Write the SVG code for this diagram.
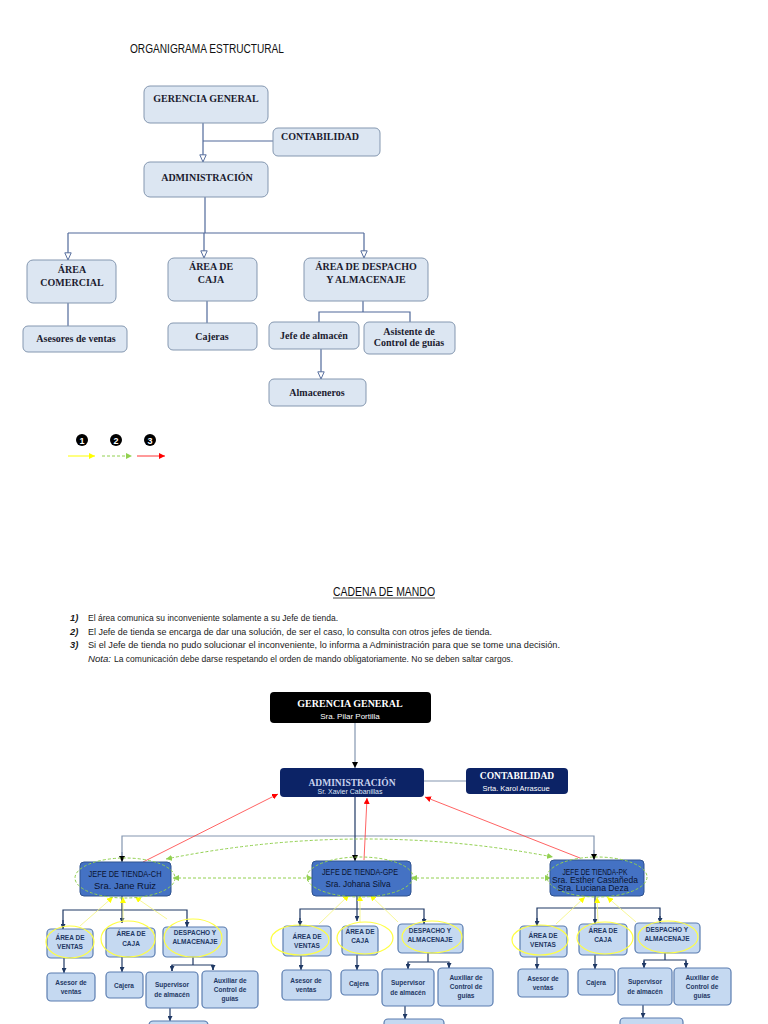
<svg xmlns="http://www.w3.org/2000/svg" width="768" height="1024" viewBox="0 0 768 1024">
<defs>
<style>
.bx{fill:#dce6f2;stroke:#8497b0;stroke-width:1}
.tt{font-family:"Liberation Serif","DejaVu Serif",serif;font-weight:bold;font-size:10px;fill:#1b1b2f;text-anchor:middle}
.ln{fill:none;stroke:#50699a;stroke-width:1.2}
.sn{font-family:"Liberation Sans",Arial,sans-serif}
.lt{font-family:"Liberation Sans",Arial,sans-serif;font-size:9.3px;fill:#1a1a1a}
.jb{fill:#4472c4;stroke:#2f528f;stroke-width:1}
.jt{font-family:"Liberation Sans",Arial,sans-serif;font-size:9px;fill:#0a1230;text-anchor:middle}
.sb{fill:#c5d9f1;stroke:#5b7db0;stroke-width:1.2}
.st{font-family:"Liberation Sans",Arial,sans-serif;font-weight:bold;font-size:6.5px;fill:#1f3864;text-anchor:middle}
.nl{fill:none;stroke:#1f3864;stroke-width:1.2}
.gl{fill:none;stroke:#8496b0;stroke-width:1.2}
.rd{fill:none;stroke:#ff3b3b;stroke-width:0.8}
.gr{fill:none;stroke:#92d050;stroke-width:1;stroke-dasharray:3,2}
.ye{fill:none;stroke:#ffff44;stroke-width:1.2}
.yl{fill:none;stroke:#f5f57a;stroke-width:0.8}
</style>
<marker id="open" viewBox="0 0 10 10" refX="10" refY="5" markerUnits="userSpaceOnUse" markerWidth="8" markerHeight="8" orient="auto"><path d="M1,1 L10,5 L1,9 Z" fill="#fff" stroke="#50699a" stroke-width="1.2"/></marker>
<marker id="blk" viewBox="0 0 10 10" refX="10" refY="5" markerUnits="userSpaceOnUse" markerWidth="6" markerHeight="7" orient="auto"><path d="M0,0 L10,5 L0,10 Z" fill="#000"/></marker>
<marker id="nav" viewBox="0 0 10 10" refX="10" refY="5" markerUnits="userSpaceOnUse" markerWidth="5" markerHeight="5" orient="auto"><path d="M0,0 L10,5 L0,10 Z" fill="#1f3864"/></marker>
<marker id="red" viewBox="0 0 10 10" refX="10" refY="5" markerUnits="userSpaceOnUse" markerWidth="6" markerHeight="6" orient="auto"><path d="M0,0 L10,5 L0,10 Z" fill="#ff0000"/></marker>
<marker id="grn" viewBox="0 0 10 10" refX="10" refY="5" markerUnits="userSpaceOnUse" markerWidth="6" markerHeight="6" orient="auto"><path d="M0,0 L10,5 L0,10 Z" fill="#92d050"/></marker>
<marker id="grs" viewBox="0 0 10 10" refX="0" refY="5" markerUnits="userSpaceOnUse" markerWidth="6" markerHeight="6" orient="auto"><path d="M10,0 L0,5 L10,10 Z" fill="#92d050"/></marker>
<marker id="yel" viewBox="0 0 10 10" refX="10" refY="5" markerUnits="userSpaceOnUse" markerWidth="6" markerHeight="6" orient="auto"><path d="M0,0 L10,5 L0,10 Z" fill="#ffff00"/></marker>
</defs>
<rect width="768" height="1024" fill="#fff"/>

<text x="130" y="53" class="sn" font-size="12" fill="#111" textLength="154" lengthAdjust="spacingAndGlyphs">ORGANIGRAMA ESTRUCTURAL</text>

<g id="top-connectors">
<path class="ln" d="M203,123 V162" marker-end="url(#open)"/>
<path class="ln" d="M203,141 H273"/>
<path class="ln" d="M205,197 V233"/>
<path class="ln" d="M68,233 H364"/>
<path class="ln" d="M68,233 V260" marker-end="url(#open)"/>
<path class="ln" d="M204,233 V258" marker-end="url(#open)"/>
<path class="ln" d="M364,233 V258" marker-end="url(#open)"/>
<path class="ln" d="M68,303 V326"/>
<path class="ln" d="M207,301 V323"/>
<path class="ln" d="M363,301 V312 M319,322 V312 H410 V322"/>
<path class="ln" d="M321,349 V379" marker-end="url(#open)"/>
</g>

<g id="t-gerencia"><rect class="bx" x="144" y="86" width="124" height="37" rx="6"/><text class="tt" x="206" y="102">GERENCIA GENERAL</text></g>
<g id="t-contabilidad"><rect class="bx" x="273" y="128" width="107" height="28" rx="5"/><text class="tt" x="320" y="140">CONTABILIDAD</text></g>
<g id="t-administracion"><rect class="bx" x="144" y="162" width="124" height="35" rx="6"/><text class="tt" x="207" y="181">ADMINISTRACIÓN</text></g>
<g id="t-comercial"><rect class="bx" x="27" y="260" width="89" height="43" rx="6"/><text class="tt" x="72" y="273">ÁREA</text><text class="tt" x="72" y="286">COMERCIAL</text></g>
<g id="t-caja"><rect class="bx" x="168" y="258" width="89" height="43" rx="6"/><text class="tt" x="211" y="270">ÁREA DE</text><text class="tt" x="211" y="283">CAJA</text></g>
<g id="t-despacho"><rect class="bx" x="304" y="258" width="124" height="43" rx="6"/><text class="tt" x="366" y="270">ÁREA DE DESPACHO</text><text class="tt" x="366" y="283">Y ALMACENAJE</text></g>
<g id="t-asesores"><rect class="bx" x="23" y="326" width="104" height="26" rx="5"/><text class="tt" x="76" y="342">Asesores de ventas</text></g>
<g id="t-cajeras"><rect class="bx" x="168" y="323" width="89" height="27" rx="5"/><text class="tt" x="212" y="340">Cajeras</text></g>
<g id="t-jefealmacen"><rect class="bx" x="269" y="322" width="90" height="27" rx="5"/><text class="tt" x="314" y="339">Jefe de almacén</text></g>
<g id="t-asistente"><rect class="bx" x="364" y="322" width="91" height="32" rx="5"/><text class="tt" x="409" y="335">Asistente de</text><text class="tt" x="409" y="346">Control de guías</text></g>
<g id="t-almaceneros"><rect class="bx" x="269" y="379" width="97" height="27" rx="5"/><text class="tt" x="317" y="396">Almaceneros</text></g>

<g id="legend">
<circle cx="82" cy="440" r="6" fill="#000"/><text x="82" y="443.5" class="sn" font-size="9" font-weight="bold" fill="#fff" text-anchor="middle">1</text>
<circle cx="116" cy="440" r="6" fill="#000"/><text x="116" y="443.5" class="sn" font-size="9" font-weight="bold" fill="#fff" text-anchor="middle">2</text>
<circle cx="150" cy="440" r="6" fill="#000"/><text x="150" y="443.5" class="sn" font-size="9" font-weight="bold" fill="#fff" text-anchor="middle">3</text>
<path d="M68,456 H95" stroke="#ffff00" stroke-width="1" marker-end="url(#yel)"/>
<path d="M102,456 H132" class="gr" marker-end="url(#grn)"/>
<path d="M137,456 H165" stroke="#ff0000" stroke-width="0.8" marker-end="url(#red)"/>
</g>

<g id="cadena-text">
<text x="333" y="596" class="sn" font-size="12" fill="#111" textLength="102" lengthAdjust="spacingAndGlyphs">CADENA DE MANDO</text>
<line x1="333" y1="598" x2="435" y2="598" stroke="#111" stroke-width="0.8"/>
<text x="70" y="621" class="lt" font-style="italic" font-weight="bold" fill="#1f3864">1)</text>
<text x="88" y="621" class="lt" textLength="250" lengthAdjust="spacingAndGlyphs">El área comunica su inconveniente solamente a su Jefe de tienda.</text>
<text x="70" y="635" class="lt" font-style="italic" font-weight="bold" fill="#1f3864">2)</text>
<text x="88" y="635" class="lt" textLength="404" lengthAdjust="spacingAndGlyphs">El Jefe de tienda se encarga de dar una solución, de ser el caso, lo consulta con otros jefes de tienda.</text>
<text x="70" y="648" class="lt" font-style="italic" font-weight="bold" fill="#1f3864">3)</text>
<text x="88" y="648" class="lt" textLength="472" lengthAdjust="spacingAndGlyphs">Si el Jefe de tienda no pudo solucionar el inconveniente, lo informa a Administración para que se tome una decisión.</text>
<text x="88" y="662" class="lt" font-style="italic" textLength="23" lengthAdjust="spacingAndGlyphs">Nota:</text>
<text x="114" y="662" class="lt" textLength="399" lengthAdjust="spacingAndGlyphs">La comunicación debe darse respetando el orden de mando obligatoriamente. No se deben saltar cargos.</text>
</g>

<g id="bottom-connectors">
<path class="gl" d="M355,723 V768" marker-end="url(#blk)"/>
<path class="gl" d="M424,781 H466"/>
<path class="gl" d="M122,862 V836 H594 V860"/>
<path d="M122,852 V862" class="gl" marker-end="url(#blk)"/>
<path d="M594,850 V860" class="gl" marker-end="url(#blk)"/>
<path class="nl" d="M355,797 V861" marker-end="url(#blk)"/>
<path class="rd" d="M143,862 L278,794" marker-end="url(#red)"/>
<path class="rd" d="M364,860 L367,798" marker-end="url(#red)"/>
<path class="rd" d="M580,858 L425,797" marker-end="url(#red)"/>
<path class="gr" d="M166,859 Q360,820 553,857" marker-start="url(#grs)" marker-end="url(#grn)"/>
<path class="gr" d="M173,878 H313" marker-start="url(#grs)" marker-end="url(#grn)"/>
<path class="gr" d="M411,878 H551" marker-start="url(#grs)" marker-end="url(#grn)"/>
<path class="nl" d="M122,896 V923" marker-end="url(#nav)"/>
<path class="nl" d="M63,929 V910 H187 V927"/>
<path class="nl" d="M63,920 V929" marker-end="url(#nav)"/>
<path class="nl" d="M187,920 V927" marker-end="url(#nav)"/>
<path class="nl" d="M64,958 V973" marker-end="url(#nav)"/>
<path class="nl" d="M122,957 V972" marker-end="url(#nav)"/>
<path class="nl" d="M193,957 V965 M172,971 V965 H213 V970"/>
<path class="nl" d="M172,965 V971" marker-end="url(#nav)"/>
<path class="nl" d="M213,965 V970" marker-end="url(#nav)"/>
<path class="nl" d="M170,1008 V1021" marker-end="url(#nav)"/>
<path class="yl" d="M80,926 L113,897" marker-end="url(#yel)"/>
<path class="yl" d="M123,921 V897" marker-end="url(#yel)"/>
<path class="yl" d="M167,919 L135,897" marker-end="url(#yel)"/>
<path class="nl" d="M357,896 V921" marker-end="url(#nav)"/>
<path class="nl" d="M300,926 V909 H424 V924"/>
<path class="nl" d="M300,918 V926" marker-end="url(#nav)"/>
<path class="nl" d="M424,918 V924" marker-end="url(#nav)"/>
<path class="nl" d="M301,956 V970" marker-end="url(#nav)"/>
<path class="nl" d="M357,955 V970" marker-end="url(#nav)"/>
<path class="nl" d="M428,953 V962 M408,968 V962 H449 V968"/>
<path class="nl" d="M408,963 V969" marker-end="url(#nav)"/>
<path class="nl" d="M449,963 V968" marker-end="url(#nav)"/>
<path class="nl" d="M405,1006 V1019" marker-end="url(#nav)"/>
<path class="yl" d="M319,924 L349,895" marker-end="url(#yel)"/>
<path class="yl" d="M360,922 V895" marker-end="url(#yel)"/>
<path class="yl" d="M398,922 L370,895" marker-end="url(#yel)"/>
<path class="nl" d="M595,896 V924" marker-end="url(#nav)"/>
<path class="nl" d="M537,926 V908 H660 V923"/>
<path class="nl" d="M537,918 V926" marker-end="url(#nav)"/>
<path class="nl" d="M660,916 V923" marker-end="url(#nav)"/>
<path class="nl" d="M537,957 V969" marker-end="url(#nav)"/>
<path class="nl" d="M595,955 V969" marker-end="url(#nav)"/>
<path class="nl" d="M665,953 V960 M644,967 V960 H686 V967"/>
<path class="nl" d="M644,961 V968" marker-end="url(#nav)"/>
<path class="nl" d="M686,961 V968" marker-end="url(#nav)"/>
<path class="nl" d="M643,1005 V1018" marker-end="url(#nav)"/>
<path class="yl" d="M556,924 L585,897" marker-end="url(#yel)"/>
<path class="yl" d="M598,922 L597,897" marker-end="url(#yel)"/>
<path class="yl" d="M636,922 L607,897" marker-end="url(#yel)"/>
</g>

<g id="b-gerencia"><rect x="270" y="692" width="161" height="31" rx="4" fill="#000"/><text x="350" y="707" font-family="Liberation Serif,serif" font-weight="bold" font-size="10" fill="#fff" text-anchor="middle">GERENCIA GENERAL</text><text x="350" y="719" class="sn" font-size="8" fill="#fff" text-anchor="middle">Sra. Pilar Portilla</text></g>
<g id="b-administracion"><rect x="280" y="768" width="144" height="29" rx="4" fill="#0c2366"/><text x="352" y="786" font-family="Liberation Serif,serif" font-weight="bold" font-size="9.5" fill="#c8d2ee" text-anchor="middle">ADMINISTRACIÓN</text><text x="350" y="794" class="sn" font-size="7" fill="#dfe6f7" text-anchor="middle">Sr. Xavier Cabanillas</text></g>
<g id="b-contabilidad"><rect x="466" y="768" width="102" height="26" rx="4" fill="#0c2366"/><text x="517" y="779" font-family="Liberation Serif,serif" font-weight="bold" font-size="9.5" fill="#fff" text-anchor="middle">CONTABILIDAD</text><text x="516" y="791" class="sn" font-size="7.5" fill="#fff" text-anchor="middle">Srta. Karol Arrascue</text></g>

<g id="jefe-ch"><rect class="jb" x="80" y="862" width="91" height="34" rx="4"/><ellipse cx="125" cy="878" rx="50" ry="20" class="gr"/><text class="jt" x="125" y="877" textLength="73" lengthAdjust="spacingAndGlyphs">JEFE DE TIENDA-CH</text><text class="jt" x="125" y="889" textLength="62" lengthAdjust="spacingAndGlyphs">Sra. Jane Ruiz</text></g>
<g id="jefe-gpe"><rect class="jb" x="312" y="861" width="99" height="35" rx="4"/><ellipse cx="360" cy="877" rx="53" ry="20" class="gr"/><text class="jt" x="360" y="875" textLength="76" lengthAdjust="spacingAndGlyphs">JEFE DE TIENDA-GPE</text><text class="jt" x="358" y="887" textLength="65" lengthAdjust="spacingAndGlyphs">Sra. Johana Silva</text></g>
<g id="jefe-pk"><rect class="jb" x="550" y="860" width="94" height="36" rx="4"/><ellipse cx="597" cy="877" rx="50" ry="20" class="gr"/><text class="jt" x="595" y="875" font-size="8.5" textLength="65" lengthAdjust="spacingAndGlyphs">JEFE DE TIENDA-PK</text><text class="jt" x="595" y="883" font-size="8.5" textLength="86" lengthAdjust="spacingAndGlyphs">Sra. Esther Castañeda</text><text class="jt" x="593" y="891" font-size="8.5" textLength="71" lengthAdjust="spacingAndGlyphs">Sra. Luciana Deza</text></g>

<g id="ch-ventas"><rect class="sb" x="47" y="929" width="46" height="29" rx="4"/><ellipse class="ye" cx="70" cy="942" rx="24" ry="16"/><text class="st" x="70" y="940">ÁREA DE</text><text class="st" x="70" y="949">VENTAS</text></g>
<g id="ch-caja"><rect class="sb" x="106" y="928" width="49" height="29" rx="4"/><ellipse class="ye" cx="128" cy="939" rx="27" ry="18"/><text class="st" x="131" y="936">ÁREA DE</text><text class="st" x="131" y="946">CAJA</text></g>
<g id="ch-despacho"><rect class="sb" x="163" y="927" width="64" height="30" rx="4"/><ellipse class="ye" cx="193" cy="938" rx="29" ry="19"/><text class="st" x="195" y="935">DESPACHO Y</text><text class="st" x="195" y="944">ALMACENAJE</text></g>
<g id="ch-asesor"><rect class="sb" x="47" y="973" width="48" height="28" rx="4"/><text class="st" x="71" y="985">Asesor de</text><text class="st" x="71" y="994">ventas</text></g>
<g id="ch-cajera"><rect class="sb" x="106" y="972" width="37" height="26" rx="4"/><text class="st" x="124" y="988">Cajera</text></g>
<g id="ch-supervisor"><rect class="sb" x="146" y="972" width="52" height="36" rx="4"/><text class="st" x="172" y="987">Supervisor</text><text class="st" x="172" y="997">de almacén</text></g>
<g id="ch-auxiliar"><rect class="sb" x="202" y="971" width="56" height="37" rx="4"/><text class="st" x="230" y="983">Auxiliar de</text><text class="st" x="230" y="992">Control de</text><text class="st" x="230" y="1001">guías</text></g>
<g id="ch-next"><rect class="sb" x="149" y="1021" width="59" height="14" rx="4"/></g>

<g id="gpe-ventas"><rect class="sb" x="283" y="926" width="48" height="30" rx="4"/><ellipse class="ye" cx="300" cy="940" rx="29" ry="15"/><text class="st" x="307" y="939">ÁREA DE</text><text class="st" x="307" y="948">VENTAS</text></g>
<g id="gpe-caja"><rect class="sb" x="342" y="926" width="36" height="29" rx="4"/><ellipse class="ye" cx="365" cy="938" rx="28" ry="16"/><text class="st" x="360" y="934">ÁREA DE</text><text class="st" x="360" y="943">CAJA</text></g>
<g id="gpe-despacho"><rect class="sb" x="398" y="924" width="65" height="29" rx="4"/><ellipse class="ye" cx="432" cy="937" rx="30" ry="16"/><text class="st" x="430" y="933">DESPACHO Y</text><text class="st" x="430" y="942">ALMACENAJE</text></g>
<g id="gpe-asesor"><rect class="sb" x="282" y="970" width="49" height="30" rx="4"/><text class="st" x="306" y="983">Asesor de</text><text class="st" x="306" y="992">ventas</text></g>
<g id="gpe-cajera"><rect class="sb" x="341" y="970" width="37" height="25" rx="4"/><text class="st" x="359" y="986">Cajera</text></g>
<g id="gpe-supervisor"><rect class="sb" x="382" y="969" width="52" height="37" rx="4"/><text class="st" x="408" y="985">Supervisor</text><text class="st" x="408" y="995">de almacén</text></g>
<g id="gpe-auxiliar"><rect class="sb" x="438" y="968" width="55" height="38" rx="4"/><text class="st" x="466" y="980">Auxiliar de</text><text class="st" x="466" y="989">Control de</text><text class="st" x="466" y="998">guías</text></g>
<g id="gpe-next"><rect class="sb" x="384" y="1019" width="60" height="14" rx="4"/></g>

<g id="pk-ventas"><rect class="sb" x="520" y="926" width="47" height="31" rx="4"/><ellipse class="ye" cx="540" cy="940" rx="28" ry="15"/><text class="st" x="543" y="938">ÁREA DE</text><text class="st" x="543" y="947">VENTAS</text></g>
<g id="pk-caja"><rect class="sb" x="579" y="924" width="48" height="31" rx="4"/><ellipse class="ye" cx="605" cy="938" rx="28" ry="16"/><text class="st" x="603" y="933">ÁREA DE</text><text class="st" x="603" y="942">CAJA</text></g>
<g id="pk-despacho"><rect class="sb" x="635" y="923" width="65" height="30" rx="4"/><ellipse class="ye" cx="668" cy="937" rx="30" ry="16"/><text class="st" x="667" y="932">DESPACHO Y</text><text class="st" x="667" y="941">ALMACENAJE</text></g>
<g id="pk-asesor"><rect class="sb" x="518" y="969" width="50" height="28" rx="4"/><text class="st" x="543" y="981">Asesor de</text><text class="st" x="543" y="990">ventas</text></g>
<g id="pk-cajera"><rect class="sb" x="578" y="969" width="37" height="26" rx="4"/><text class="st" x="596" y="985">Cajera</text></g>
<g id="pk-supervisor"><rect class="sb" x="618" y="968" width="54" height="37" rx="4"/><text class="st" x="645" y="984">Supervisor</text><text class="st" x="645" y="994">de almacén</text></g>
<g id="pk-auxiliar"><rect class="sb" x="674" y="968" width="57" height="37" rx="4"/><text class="st" x="702" y="980">Auxiliar de</text><text class="st" x="702" y="989">Control de</text><text class="st" x="702" y="998">guías</text></g>
<g id="pk-next"><rect class="sb" x="620" y="1018" width="63" height="14" rx="4"/></g>
</svg>
